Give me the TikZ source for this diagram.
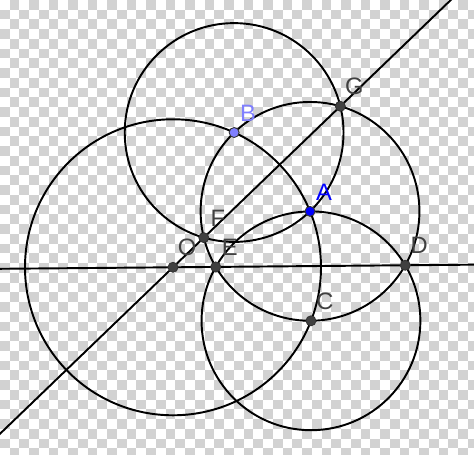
\documentclass[tikz,border=0pt]{standalone}
\usepackage{fontspec}
\setmainfont{Liberation Sans}
\usetikzlibrary{calc}
\definecolor{ptgray}{HTML}{404040}
\definecolor{ptblue}{HTML}{0000FF}
\definecolor{ptlight}{HTML}{7F7FFF}
\definecolor{chk}{HTML}{D2D2D2}
\tikzset{
  pt/.style={circle, draw=black!80, line width=0.5pt, fill=#1, inner sep=0pt, minimum size=0.2cm},
  lbl/.style={text=#1, font=\fontsize{13.5}{15}\selectfont, inner sep=0pt},
  trazo/.style={line width=1.1pt}
}
\begin{document}
\begin{tikzpicture}[x=0.02cm, y=0.02cm]
  \useasboundingbox (-173,-187.7) rectangle (301,267.3);
  \clip (-173,-187.7) rectangle (301,267.3);
  % Fondo
  \foreach \i in {0,...,48} {
    \foreach \j in {0,...,46} {
      \pgfmathtruncatemacro\k{mod(\i+\j,2)}
      \ifnum\k=1
        \fill[chk] (-173+\i*9.75, 267.3-\j*9.75) rectangle ++(9.75,-9.75);
      \fi
    }
  }

  % Puntos
  \coordinate (pO) at (0,0);
  \coordinate (pA) at (22.2:148);
  \coordinate (pB) at (65.6:148);
  \coordinate (pC) at (-21.2:148);
  \coordinate (pG) at (43.9:232.25);
  \coordinate (pF) at (43.9:42.75);
  \coordinate (pD) at (0.5:232.25);
  \coordinate (pE) at (0.5:42.75);
  \coordinate (w1) at (180.5:174);
  \coordinate (e1) at (0.5:303);
  \coordinate (w2) at (223.9:242);
  \coordinate (e2) at (43.9:387);

  % Circunferencias
  \foreach \c/\r in {pO/148, pA/109.4, pB/109.4, pC/109.4} {
    \draw[trazo] (\c) circle [radius=\r];
  }

  % Rectas
  \draw[trazo] (w1) -- (e1);
  \draw[trazo] (w2) -- (e2);

  % Etiquetas
  \foreach \n/\col in {O/ptgray, E/ptgray, D/ptgray, F/ptgray, G/ptgray, C/ptgray, A/ptblue, B/ptlight} {
    \node[pt=\col] (\n) at (p\n) {};
    \node[lbl=\col] (l\n) at ($(p\n)+(14,19.5)$) {\n};
  }
\end{tikzpicture}
\end{document}
